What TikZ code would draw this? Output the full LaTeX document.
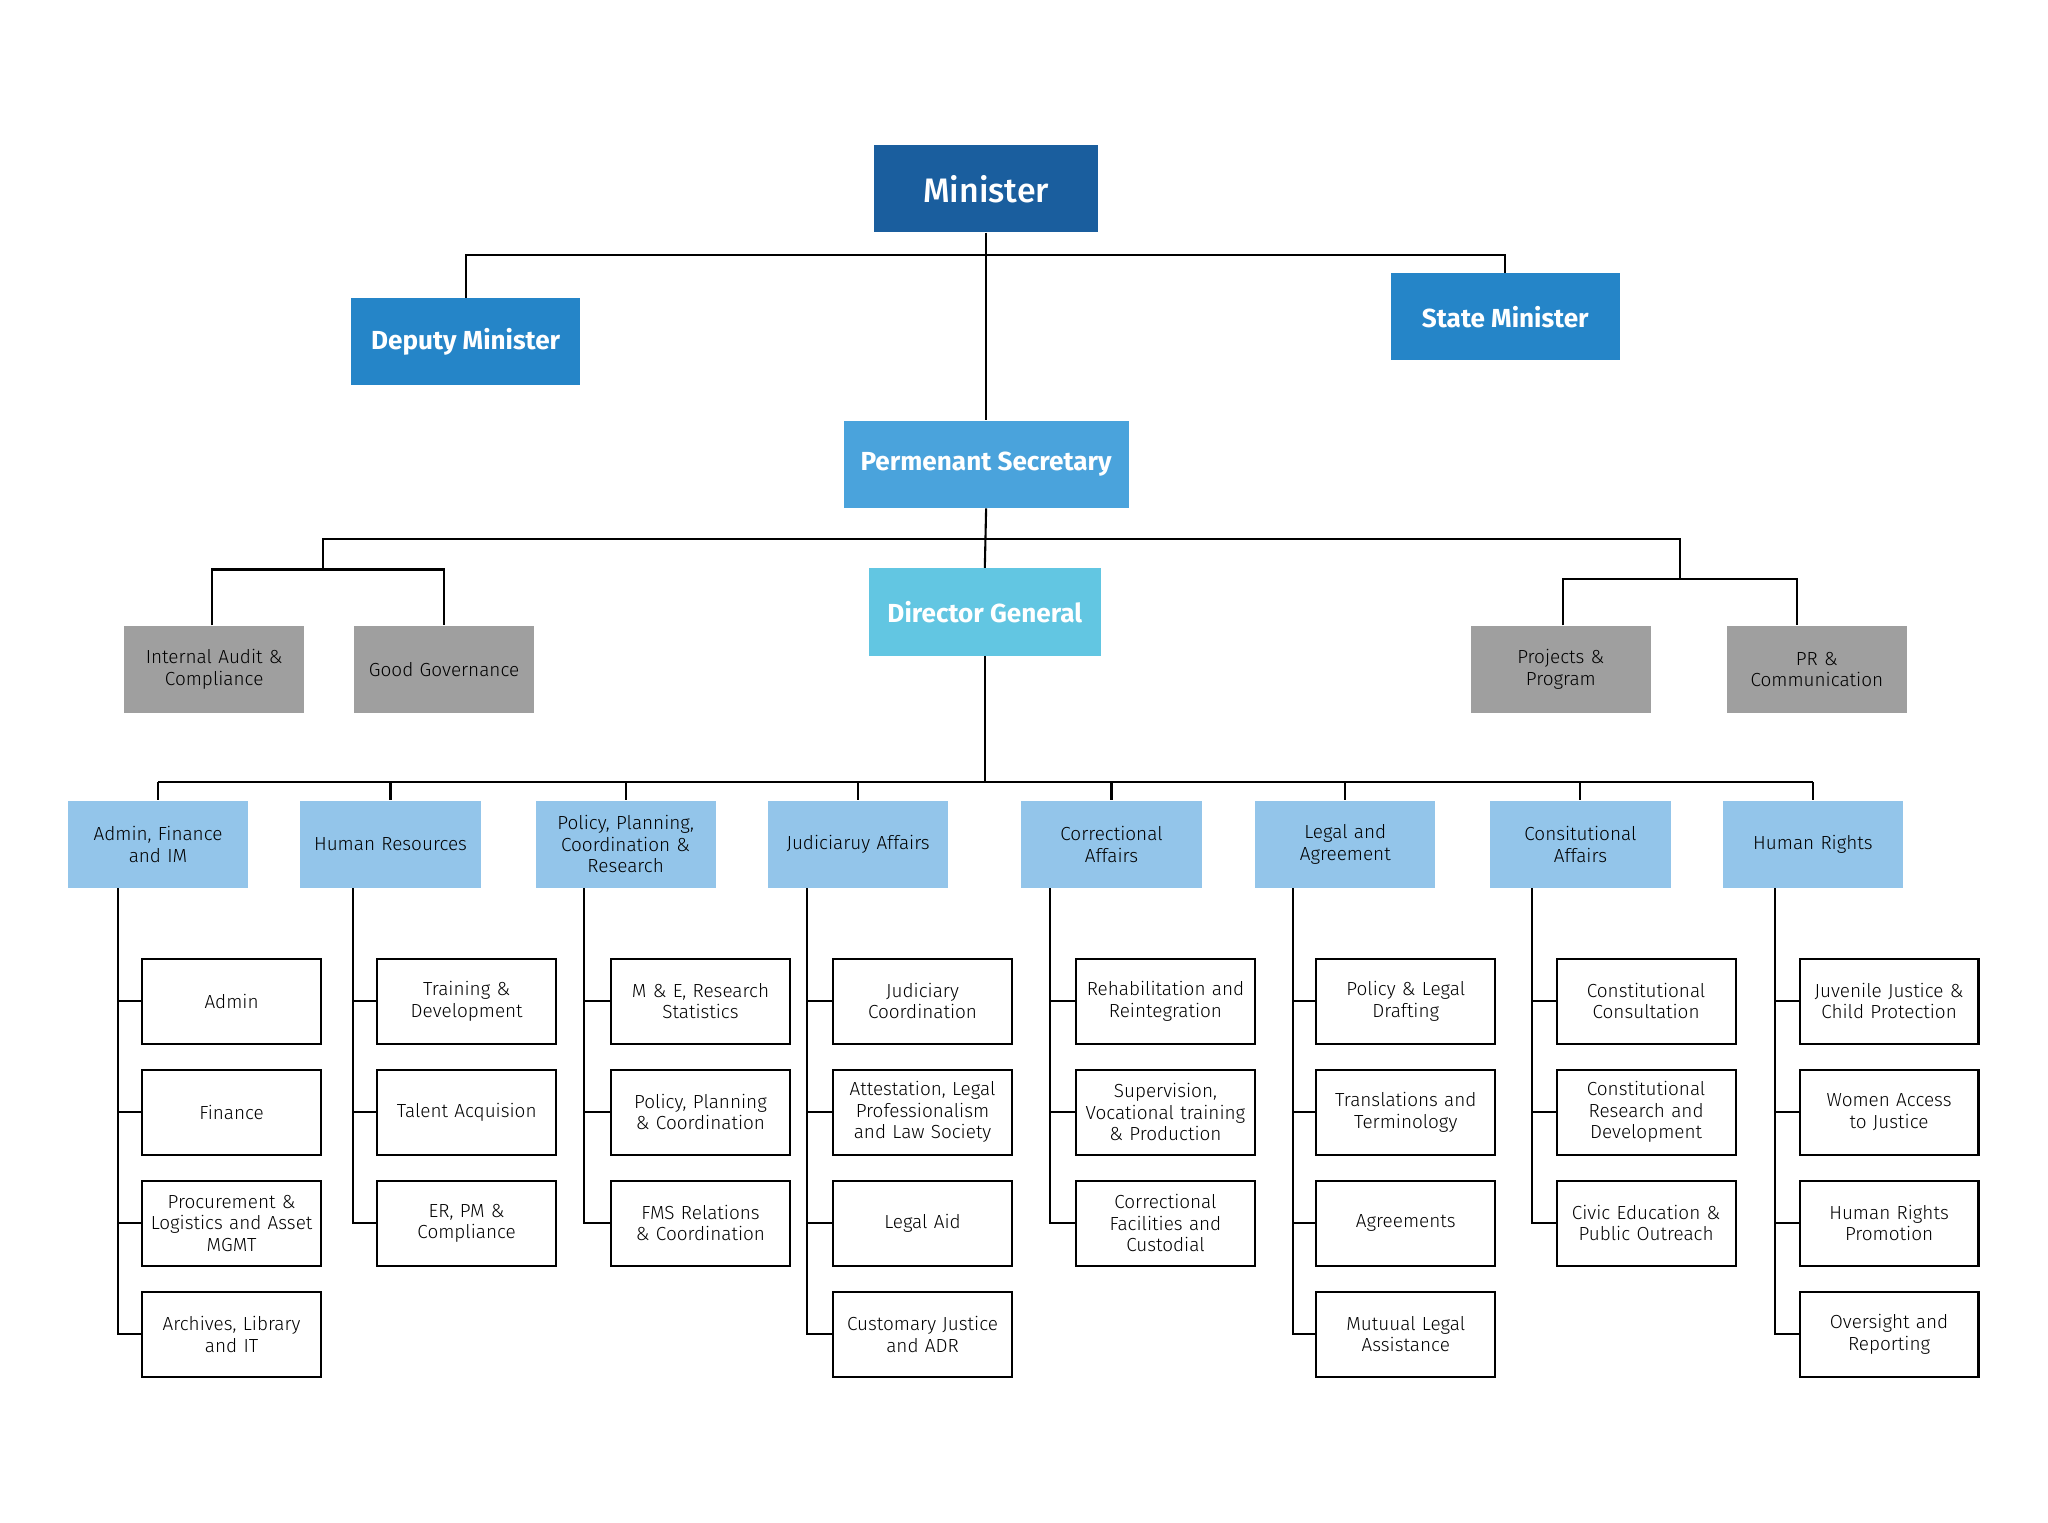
\documentclass[tikz,border=0pt]{standalone}
\usepackage{fontspec}
\setmainfont{Fira Sans}
\newfontfamily\lite{Fira Sans Light}
\newfontfamily\med{Fira Sans Medium}
\begin{document}
\begin{tikzpicture}[x=1pt,y=-1pt,
 top/.style={draw=none,text=white,font=\bfseries\fontsize{20}{24}\selectfont,minimum height=67pt,inner sep=0pt,align=center},
 grey/.style={fill=gray!75,minimum width=138pt,minimum height=67pt,inner sep=2pt,text width=130pt,align=center,font=\lite\fontsize{14.5}{16.5}\selectfont},
 dept/.style={fill=deptc,minimum width=138pt,minimum height=67pt,inner sep=2pt,text width=130pt,align=center,font=\lite\fontsize{14.5}{16.5}\selectfont},
 sub/.style={draw,line width=1.6pt,fill=white,minimum width=137pt,minimum height=65pt,inner sep=2pt,text width=130pt,align=center,font=\lite\fontsize{14.5}{16.5}\selectfont},
 ln/.style={line width=1.6pt}]
\definecolor{c1}{HTML}{1A5E9E}\definecolor{c2}{HTML}{2585C8}\definecolor{c3}{HTML}{4AA3DC}\definecolor{c4}{HTML}{62C6E2}\definecolor{deptc}{HTML}{93C5EA}
\useasboundingbox (0,0) rectangle (1568,1166);
\node[top,fill=c1,minimum width=172pt,font=\med\fontsize{26}{30}\selectfont] (min) at (755,144.5) {Minister};
\node[top,fill=c2,minimum width=175pt] (dep) at (356.5,261.5) {Deputy Minister};
\node[top,fill=c2,minimum width=175pt] (st) at (1152.5,242.5) {State Minister};
\node[top,fill=c3,minimum width=218pt] (ps) at (755,355.5) {Permenant Secretary};
\node[top,fill=c4,minimum width=178pt] (dg) at (754,468.5) {Director General};
\node[grey] (g1) at (164,512.5) {Internal Audit \&\\Compliance};
\node[grey] (g2) at (340,512.5) {Good Governance};
\node[grey] (g3) at (1195,512.5) {Projects \&\\Program};
\node[grey] (g4) at (1391,512.5) {PR \&\\Communication};
\coordinate (j1) at (754,195);
\draw[ln] (min.south) -- (ps.north);
\draw[ln] (dep.north) |- (j1) -| (st.north);
\coordinate (j2) at (754,413);
\coordinate (jl) at (247,436);\coordinate (jr) at (1286,443);
\draw[ln] (ps.south) -- (dg.north);
\draw[ln] (jl) |- (j2) -| (jr);
\draw[ln] ([xshift=-2pt]g1.north) |- (jl) -| (g2.north);
\draw[ln] ([xshift=2pt]g3.north) |- (jr) -| ([xshift=-15pt]g4.north);
\coordinate (j3) at (754,599);
\draw[ln] (dg.south) -- (j3);
\foreach \i/\cx/\tx/\bx/\t in {
 1/121/90/108/{Admin, Finance\\and IM},
 2/299/270/288/{Human Resources},
 3/479/447/467/{Policy, Planning,\\Coordination \&\\Research},
 4/657/618/637/{Judiciaruy Affairs},
 5/851/804/823/{Correctional\\Affairs},
 6/1030/990/1007/{Legal and\\Agreement},
 7/1210/1173/1191/{Consitutional\\Affairs},
 8/1388/1359/1377/{Human Rights}}{
 \node[dept] (d\i) at (\cx,646.5) {\t};
 \coordinate (t\i) at (\cx,599);
 \draw[ln] (t\i) -- (d\i.north);
 \coordinate (r\i) at (\tx,680);
}
\draw[ln] (121,599) -- (1388,599);
\foreach \i/\tx/\bx/\list in {
 1/90/108/{{Admin},{Finance},{Procurement \&\\Logistics and Asset\\MGMT},{Archives, Library\\and IT}},
 2/270/288/{{Training \&\\Development},{Talent Acquision},{ER, PM \&\\Compliance}},
 3/447/467/{{M \& E, Research\\Statistics},{Policy, Planning\\\& Coordination},{FMS Relations\\\& Coordination}},
 4/618/637/{{Judiciary\\Coordination},{Attestation, Legal\\Professionalism\\and Law Society},{Legal Aid},{Customary Justice\\and ADR}},
 5/804/823/{{Rehabilitation and\\Reintegration},{Supervision,\\Vocational training\\\& Production},{Correctional\\Facilities and\\Custodial}},
 6/990/1007/{{Policy \& Legal\\Drafting},{Translations and\\Terminology},{Agreements},{Mutuual Legal\\Assistance}},
 7/1173/1191/{{Constitutional\\Consultation},{Constitutional\\Research and\\Development},{Civic Education \&\\Public Outreach}},
 8/1359/1377/{{Juvenile Justice \&\\Child Protection},{Women Access\\to Justice},{Human Rights\\Promotion},{Oversight and\\Reporting}}}{
 \foreach \s [count=\k] in \list {
  \pgfmathsetmacro{\yy}{766.5+85*(\k-1)}
  \node[sub,anchor=west] (s\i-\k) at (\bx,\yy) {\s};
  \coordinate (c\i-\k) at (\tx,\yy);
  \draw[ln] (r\i) -- (c\i-\k) -- (s\i-\k.west);
 }
}
\end{tikzpicture}
\end{document}
